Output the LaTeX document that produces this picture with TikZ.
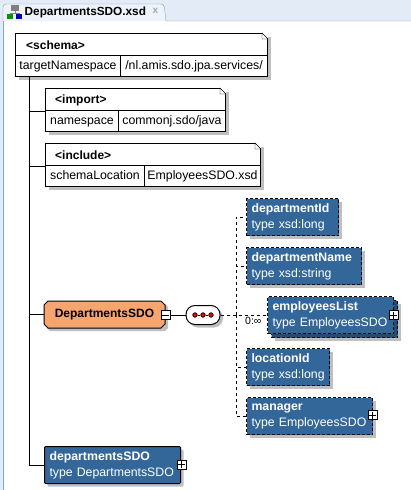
\documentclass[tikz,border=0pt]{standalone}
\usepackage{fontspec}
\setmainfont{Liberation Sans}
\usetikzlibrary{shadows}
\definecolor{elblue}{HTML}{336699}
\definecolor{elorange}{HTML}{F7A56F}
\definecolor{tabline}{HTML}{7EA3CF}
\definecolor{tabback}{HTML}{E3EBF6}
\newcommand{\foldcorner}[1]{
  \fill[white] ([xshift=-6pt]#1.north east) -- ([xshift=1pt,yshift=1pt]#1.north east) -- ([yshift=-6pt]#1.north east) -- cycle;
  \draw[fill=white] ([xshift=-6pt]#1.north east) -- ([yshift=-6pt]#1.north east) -- ([xshift=-6pt,yshift=-6pt]#1.north east) -- cycle;
}
\newcommand{\plusmark}[1]{
  \draw ([xshift=-3.5pt]#1.center) -- ([xshift=3.5pt]#1.center) ([yshift=-3.5pt]#1.center) -- ([yshift=3.5pt]#1.center);
}
\begin{document}
\begin{tikzpicture}[
  x=1pt, y=-1pt,
  every node/.style={font=\fontsize{12.3}{16}\selectfont},
  softshadow/.style={drop shadow={opacity=0.25, fill=black, shadow xshift=3pt, shadow yshift=-3pt}},
  headbox/.style={draw, fill=white, line width=1pt, anchor=north west, minimum height=22pt, inner sep=0pt, softshadow},
  headname/.style={anchor=west, font=\fontsize{12}{14}\selectfont\bfseries, inner sep=0pt},
  cellbox/.style={draw, fill=white, line width=1pt, anchor=north west, minimum height=21pt, inner sep=0pt, text height=9pt, text depth=3pt, softshadow},
  elbox/.style={draw=black, fill=elblue, text=white, anchor=north west, align=left, inner xsep=5pt, inner ysep=0pt, minimum height=37pt, softshadow},
  optbox/.style={elbox, dash pattern=on 3pt off 2pt, line width=1pt},
  plusbox/.style={draw, fill=white, line width=0.9pt, minimum size=9pt, inner sep=0pt},
  dashline/.style={dash pattern=on 3pt off 3pt, line width=1pt},
]
\useasboundingbox (0,0) rectangle (411,490);

% tab strip
\fill[tabback] (0,0) rectangle (411,21);
\fill[tabback] (0,21) rectangle (3,490);
\draw[tabline, fill=white!40!tabback] (3,21) -- (3,6) [rounded corners=3pt] -- (3,4) -- (164,4) [sharp corners] -- (166,21) -- (411,21);
\draw[tabline] (3,21) -- (3,490);
\fill[gray] (11,5) rectangle (19,11);
\fill[green!60!black] (7,14) rectangle (13,19);
\fill[blue!70!black] (16,14) rectangle (22,19);
\draw[gray] (15,11) -- (15,13) (10,14) -- (10,13) -- (19,13) -- (19,14);
\node[font=\fontsize{11.8}{14}\selectfont\bfseries, anchor=west, inner sep=0pt] (tabname) at (24.5,12) {DepartmentsSDO.xsd};
\node[font=\fontsize{10}{10}\selectfont\bfseries, text=gray!70, inner sep=0pt] (tabclose) at (155.5,11) {x};

% schema
\node[headbox, minimum width=252pt] (schema) at (15,33) {};
\node[headname] (schemaname) at (26,45) {<schema>};
\node[cellbox, minimum width=105pt] (schemakey) at (15,55) {targetNamespace};
\node[cellbox, minimum width=147pt] (schemaval) at (120,55) {/nl.amis.sdo.jpa.services/};
\foldcorner{schema}

% import
\node[headbox, minimum width=180pt] (import) at (45,88) {};
\node[headname] (importname) at (55,100) {<import>};
\node[cellbox, minimum width=73pt] (importkey) at (45,110) {namespace};
\node[cellbox, minimum width=107pt] (importval) at (118,110) {commonj.sdo/java};
\foldcorner{import}

% include
\node[headbox, minimum width=215pt] (include) at (45,143) {};
\node[headname] (includename) at (55,155) {<include>};
\node[cellbox, minimum width=99pt] (includekey) at (45,165) {schemaLocation};
\node[cellbox, minimum width=116pt] (includeval) at (144,165) {EmployeesSDO.xsd};
\foldcorner{include}

% complex type
\fill[black, opacity=0.25] (50,304) -- (165,304) -- (168,307) -- (168,328) -- (165,331) -- (50,331) -- (47,328) -- (47,307) -- cycle;
\draw[line width=1pt, fill=elorange] (48,301) -- (161,301) -- (165,305) -- (165,324) -- (161,328) -- (48,328) -- (44,324) -- (44,305) -- cycle;
\node[font=\fontsize{12}{14}\selectfont\bfseries, inner sep=0pt, minimum width=121pt, minimum height=27pt] (dept) at (104.5,314.5) {DepartmentsSDO};
\node[plusbox] (deptminus) at (165.5,315) {};
\draw ([xshift=-3.5pt]deptminus.center) -- ([xshift=3.5pt]deptminus.center);

\node[draw, line width=1pt, fill=white, rounded corners=9pt, minimum width=34pt, minimum height=19pt, inner sep=0pt, softshadow] (seq) at (203,315) {};
\foreach \dx/\name in {-8/a,0/b,8/c}
  \node[circle, draw, fill=red, minimum size=4.5pt, inner sep=0pt, line width=0.7pt] (seq\name) at (203+\dx,315) {};
\draw[line width=0.8pt] (seqa) -- (seqb) (seqb) -- (seqc);

% sequence members
\node[optbox, text width=82pt] (deptid) at (246,198) {\textbf{departmentId}\\type xsd:long};
\node[optbox, text width=105pt] (deptname) at (246,247) {\textbf{departmentName}\\type xsd:string};
\node[optbox, text width=116pt] (emplback) at (271,300) {};
\node[optbox, text width=116pt] (empl) at (267,296) {\textbf{employeesList}\\type EmployeesSDO};
\node[plusbox] (emplplus) at (393.5,315) {};
\plusmark{emplplus}
\node[optbox, text width=73pt] (locid) at (246,348) {\textbf{locationId}\\\mbox{type xsd:long}};
\node[optbox, text width=116pt] (manager) at (246,397) {\textbf{manager}\\type EmployeesSDO};
\node[plusbox] (managerplus) at (372.5,415) {};
\plusmark{managerplus}
\node[anchor=west, inner sep=0pt, font=\fontsize{10.5}{12}\selectfont] (occurs) at (245,320.5) {0:∞};

% global element
\node[elbox, line width=1pt, rounded corners=1pt, text width=126pt] (deptsdo) at (44,446) {\textbf{departmentsSDO}\\type DepartmentsSDO};
\node[plusbox] (deptsdoplus) at (181.5,464.5) {};
\plusmark{deptsdoplus}

% connectors
\coordinate (trunk) at (29.5,76);
\coordinate (fork) at (236,315);
\draw[line width=1pt] (trunk) |- (import.south west);
\draw[line width=1pt] (trunk) |- (include.south west);
\draw[line width=1pt] (trunk) |- (dept.west);
\draw[line width=1pt] (trunk) |- (deptsdo.west);
\draw[line width=1pt] (deptminus.east) -- (seq.west);
\draw[dashline] (seq.east) -- (empl.west);
\draw[dashline] (fork) |- (deptid.west);
\draw[dashline] (fork) |- (deptname.west);
\draw[dashline] (fork) |- (locid.west);
\draw[dashline] (fork) |- (manager.west);
\end{tikzpicture}
\end{document}
